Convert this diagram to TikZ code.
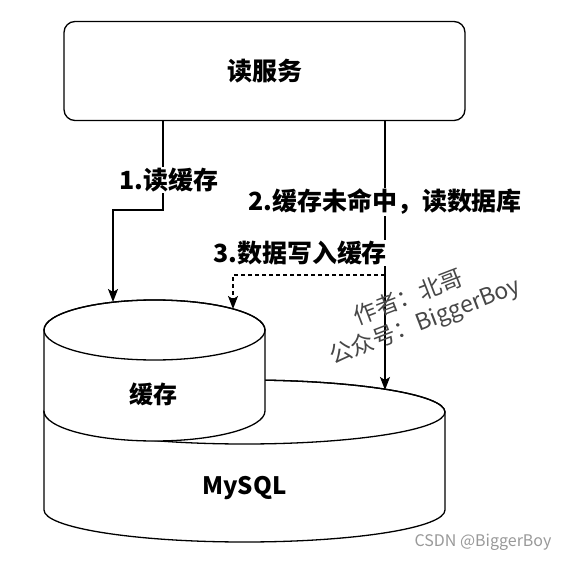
\documentclass[tikz,border=0pt]{standalone}
\usepackage{fontspec}
\setmainfont{Noto Sans CJK SC}
\usetikzlibrary{arrows.meta}
\tikzset{
  outline/.style={draw=black, line width=1.3pt},
  conn/.style={draw=black, line width=1.3pt, -{Stealth[length=13pt,width=10pt,inset=3pt]}},
  dconn/.style={conn, dash pattern=on 4pt off 3pt},
  lbl/.style={fill=white, inner sep=1pt, font=\fontsize{25}{28}\selectfont\bfseries},
  wm/.style={text=black!72, font=\fontsize{23}{28}\selectfont, rotate=21, inner sep=0pt, align=left},
}
\begin{document}
\begin{tikzpicture}[x=1pt,y=-1pt]
\useasboundingbox[fill=white] (0,0) rectangle (574,570);
% read service
\node[outline, rounded corners=11pt, minimum width=401pt, minimum height=99pt,
      font=\fontsize{25}{28}\selectfont\bfseries] (svc) at (264.5,71) {读服务};
% MySQL cylinder
\draw[outline, fill=white] (44,412) -- (44,510) arc (180:0:200.5 and 32) -- (445,412) arc (0:-180:200.5 and 32) -- cycle;
\draw[outline] (244.5,412) ellipse [x radius=200.5, y radius=32];
\node[font=\fontsize{24}{28}\selectfont\bfseries] (mysql) at (244.5,488) {MySQL};
% cache cylinder
\draw[outline, fill=white] (44,330) -- (44,411) arc (180:0:110.5 and 30) -- (265,330) arc (0:-180:110.5 and 30) -- cycle;
\draw[outline] (154.5,330) ellipse [x radius=110.5, y radius=30];
\node[font=\fontsize{24}{28}\selectfont\bfseries] (cache) at (153,394) {缓存};
% connector endpoints
\coordinate (s1) at (163,120.5);
\coordinate (t1) at (113,302);
\coordinate (s2) at (385,120.5);
\coordinate (t2) at (385,390);
\coordinate (s3) at (385,275);
\coordinate (t3) at (233,309);
% connectors
\draw[conn] (s1) -- (163,210) -| (t1);
\draw[conn] (s2) -- (t2);
\draw[dconn] (s3) -| (t3);
% labels
\node[lbl] (l1) at (169,180) {1.读缓存};
\node[lbl] (l2) at (385,202) {2.缓存未命中，读数据库};
\node[lbl] (l3) at (300,253) {3.数据写入缓存};
% watermarks
\node[wm] (w1) at (420,309) {\hspace*{37pt}作者：北哥\\公众号：BiggerBoy};
\node[text=black!40, font=\fontsize{16}{18}\selectfont, inner sep=0pt] (w3) at (483,542) {CSDN @BiggerBoy};
\end{tikzpicture}
\end{document}
